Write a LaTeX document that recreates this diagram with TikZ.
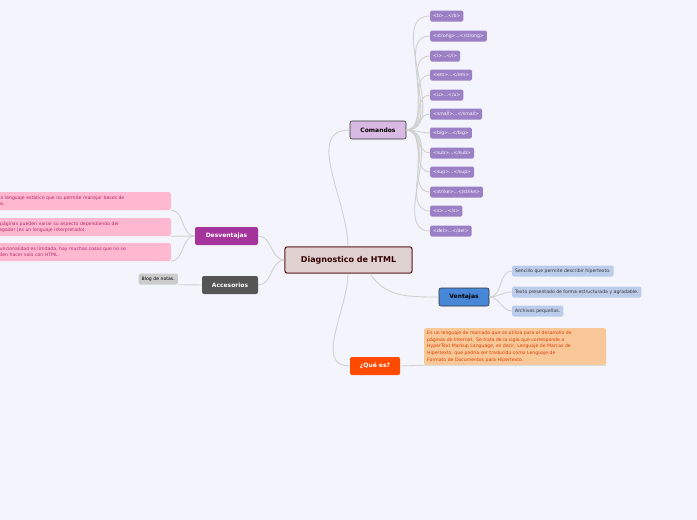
\documentclass[tikz,border=0pt]{standalone}
\usepackage{fontspec}
\setmainfont{DejaVu Sans}
\begin{document}
\begin{tikzpicture}[x=1pt,y=-1pt,
 link/.style={draw=black!18,line width=0.9pt},
 main/.style={draw=black!70!red,fill=red!20!gray!30,rounded corners=2pt,line width=0.8pt,minimum width=127pt,minimum height=26pt,font=\fontsize{8}{10}\selectfont\bfseries,text=black!80!red},
 topic/.style={draw=black!80,rounded corners=2pt,line width=0.6pt,minimum height=18pt,font=\fontsize{6}{7}\selectfont\bfseries,inner xsep=3pt},
 cmd/.style={fill=cmdc,text=white,rounded corners=1.5pt,minimum height=11pt,inner xsep=3pt,inner ysep=0pt,font=\fontsize{4.6}{5}\selectfont,anchor=west},
 ven/.style={fill=venc,text=black!80,rounded corners=1.5pt,minimum height=11pt,inner xsep=3pt,inner ysep=0pt,font=\fontsize{4.6}{5}\selectfont,anchor=west},
 des/.style={fill=desc,text=desT,rounded corners=2pt,minimum height=18pt,text width=176pt,align=left,inner xsep=4pt,inner ysep=1pt,font=\fontsize{4.6}{6}\selectfont,anchor=east}]
\definecolor{cmdc}{HTML}{9C80C6}
\definecolor{venc}{HTML}{BCCDEB}
\definecolor{desc}{HTML}{FFB8D0}
\definecolor{desT}{HTML}{B02A6E}
\fill[fill={rgb,255:red,244;green,245;blue,252}] (0,0) rectangle (697,520);
\useasboundingbox (0,0) rectangle (697,520);

\node[main] (m) at (348.5,260) {Diagnostico de HTML};
\node[topic,fill={rgb,255:red,217;green,186;blue,226},minimum width=56pt] (c) at (378,130) {Comandos};
\node[topic,fill={rgb,255:red,72;green,134;blue,216},minimum width=50pt] (v) at (464,297) {Ventajas};
\node[topic,fill={rgb,255:red,255;green,74;blue,0},draw=none,text=white,minimum width=50pt] (q) at (375,366) {¿Qué es?};
\node[topic,fill={rgb,255:red,164;green,52;blue,156},draw=none,text=white,minimum width=63pt] (d) at (226.5,236) {Desventajas};
\node[topic,fill={rgb,255:red,85;green,85;blue,85},draw=none,text=white,minimum width=56pt] (a) at (230,285) {Accesorios};

\foreach \n/\t/\y in {1/{<b>...</b>}/16,2/{<strong>...</strong>}/36,3/{<i>...</i>}/56,4/{<em>...</em>}/75,5/{<u>...</u>}/95,6/{<small>...</small>}/114,7/{<big>...</big>}/133,8/{<sub>...</sub>}/153,9/{<sup>...</sup>}/172,10/{<strike>...</strike>}/192,11/{<s>...</s>}/211,12/{<del>...</del>}/231}{
 \node[cmd] (c\n) at (430,\y) {\t};
 \draw[link] (c.east) to[out=0,in=180] (c\n.west);
}
\node[ven] (v1) at (512,271) {Sencillo que permite describir hipertexto.};
\node[ven] (v2) at (512,292) {Texto presentado de forma estructurada y agradable.};
\node[ven] (v3) at (512,311) {Archivos pequeños.};
\foreach \n in {1,2,3}{\draw[link] (v.east) to[out=0,in=180] (v\n.west);}

\node[fill={rgb,255:red,248;green,200;blue,152},text={rgb,255:red,224;green,60;blue,0},text width=176pt,align=left,anchor=north west,inner sep=3pt,rounded corners=2pt,font=\fontsize{4.6}{6.6}\selectfont] (q1) at (424,328) {Es un lenguaje de marcado que se utiliza para el desarrollo de\\ páginas de Internet. Se trata de la sigla que corresponde a\\ HyperText Markup Language, es decir, Lenguaje de Marcas de\\ Hipertexto, que podría ser traducido como Lenguaje de\\ Formato de Documentos para Hipertexto.};
\draw[link] (q.east) -- (q1.south west) -- (q1.south east);

\node[des] (d1) at (171,201) {Es un lenguaje estático que no permite manejar bases de\\ datos.};
\node[des] (d2) at (171,227) {Las páginas pueden variar su aspecto dependiendo del\\ navegador (es un lenguaje interpretado).};
\node[des] (d3) at (171,252) {Su funcionalidad es limitada, hay muchas cosas que no se\\ pueden hacer solo con HTML.};
\foreach \n in {1,2,3}{\draw[link] (d.west) to[out=180,in=0] (d\n.south east);}

\node[fill=black!20,rounded corners=1.5pt,minimum height=11pt,inner xsep=3pt,inner ysep=0pt,font=\fontsize{4.6}{5}\selectfont,anchor=east] (a1) at (178,279) {Blog de notas.};
\draw[link] (a.west) -- (a1.south east);

\draw[link] (m.west) to[out=180,in=0] (d.east);
\draw[link] (m.west) to[out=180,in=0] (a.east);
\draw[link] (348,247) to[out=90,in=180] (c.west);
\draw[link] (348,273) to[out=-90,in=180] (q.west);
\draw[link] (370,273) to[out=-60,in=180] (v.west);
\node[main] at (348.5,260) {Diagnostico de HTML};
\end{tikzpicture}
\end{document}
